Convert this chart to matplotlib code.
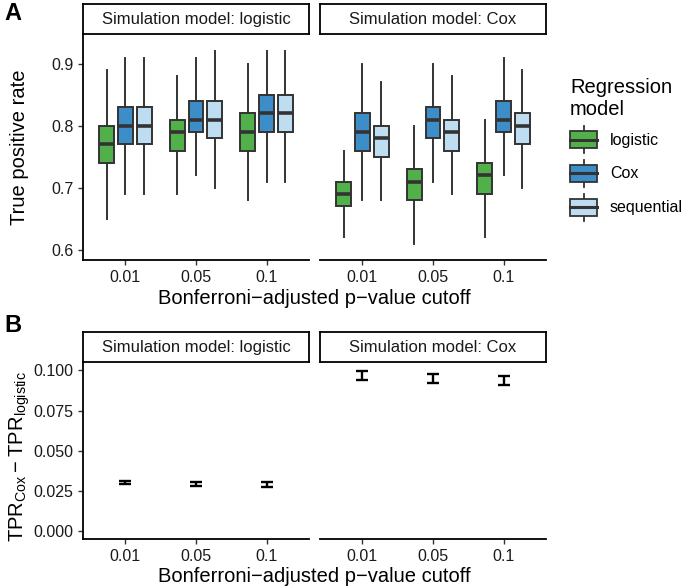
import matplotlib
matplotlib.use("Agg")
import matplotlib.pyplot as plt
from matplotlib.patches import Rectangle, Patch
from matplotlib.lines import Line2D
from matplotlib.legend_handler import HandlerBase

plt.rcParams['font.family'] = ['Liberation Sans', 'DejaVu Sans']

cutoffs = ['0.01', '0.05', '0.1']
reg_models = ['logistic', 'Cox', 'sequential']
reg_colors = ['#52B04A', '#3D8DC9', '#BFDDF0']
strip_labels = ['Simulation model: logistic', 'Simulation model: Cox']

# box stats per cutoff: (whisker low, q1, median, q3, whisker high)
simlog_reg_logistic = [(0.65, 0.74, 0.77, 0.80, 0.89), (0.69, 0.76, 0.79, 0.81, 0.88), (0.68, 0.76, 0.79, 0.82, 0.90)]
simlog_reg_cox = [(0.69, 0.77, 0.80, 0.83, 0.91), (0.72, 0.79, 0.81, 0.84, 0.91), (0.71, 0.79, 0.82, 0.85, 0.92)]
simlog_reg_seq = [(0.69, 0.77, 0.80, 0.83, 0.91), (0.70, 0.78, 0.81, 0.84, 0.92), (0.71, 0.79, 0.82, 0.85, 0.92)]
simcox_reg_logistic = [(0.62, 0.67, 0.69, 0.71, 0.76), (0.61, 0.68, 0.71, 0.73, 0.80), (0.62, 0.69, 0.72, 0.74, 0.81)]
simcox_reg_cox = [(0.68, 0.76, 0.79, 0.82, 0.90), (0.71, 0.78, 0.81, 0.83, 0.90), (0.72, 0.79, 0.81, 0.84, 0.91)]
simcox_reg_seq = [(0.68, 0.75, 0.78, 0.80, 0.87), (0.69, 0.76, 0.79, 0.81, 0.88), (0.70, 0.77, 0.80, 0.82, 0.89)]

# TPR_Cox - TPR_logistic, interval per cutoff
diff_low_simlog = [0.0290, 0.0278, 0.0274]
diff_high_simlog = [0.0314, 0.0306, 0.0302]
diff_low_simcox = [0.0943, 0.0920, 0.0910]
diff_high_simcox = [0.0998, 0.0977, 0.0963]

W, H = 685, 588
fig = plt.figure(figsize=(W / 100, H / 100), dpi=100)
edge = '#333333'
txt = '#1a1a1a'


def px_axes(x0, y0, x1, y1):
    return fig.add_axes([x0 / W, 1 - y1 / H, (x1 - x0) / W, (y1 - y0) / H])


def style(ax, show_y):
    for s in ['top', 'right']:
        ax.spines[s].set_visible(False)
    ax.spines['bottom'].set_linewidth(1.3)
    ax.spines['left'].set_linewidth(1.3)
    ax.tick_params(width=1.0, length=3.5, colors=edge, labelcolor=txt, labelsize=11.5)
    if not show_y:
        ax.spines['left'].set_visible(False)
        ax.tick_params(axis='y', left=False, labelleft=False)
    ax.set_xlim(0.4, 3.6)
    ax.set_xticks([1, 2, 3])
    ax.set_xticklabels(cutoffs)


def strip(x0, y0, x1, y1, label):
    s = px_axes(x0, y0, x1, y1)
    s.set_xticks([])
    s.set_yticks([])
    for sp in s.spines.values():
        sp.set_linewidth(1.3)
        sp.set_color('black')
    s.text(0.5, 0.47, label, ha='center', va='center', fontsize=12, color=txt,
           transform=s.transAxes)


# Panel A
sims_a = [[simlog_reg_logistic, simlog_reg_cox, simlog_reg_seq],
          [simcox_reg_logistic, simcox_reg_cox, simcox_reg_seq]]
offsets = [-0.265, 0, 0.265]
xr = [(83, 309), (320, 546)]
for p, groups in enumerate(sims_a):
    ax = px_axes(xr[p][0], 34, xr[p][1], 260)
    style(ax, p == 0)
    for r, series in enumerate(groups):
        stats = [dict(whislo=v[0], q1=v[1], med=v[2], q3=v[3], whishi=v[4], fliers=[])
                 for v in series]
        ax.bxp(stats, positions=[i + 1 + offsets[r] for i in range(3)], widths=0.21,
               showcaps=False, patch_artist=True,
               boxprops=dict(facecolor=reg_colors[r], edgecolor=edge, linewidth=1.4),
               whiskerprops=dict(color=edge, linewidth=1.4),
               medianprops=dict(color=edge, linewidth=2.6), manage_ticks=False)
    ax.set_ylim(0.5834, 0.948)
    ax.set_yticks([0.6, 0.7, 0.8, 0.9])
    ax.set_yticklabels(['0.6', '0.7', '0.8', '0.9'])
    strip(xr[p][0], 4, xr[p][1], 34, strip_labels[p])

# Panel B
lows = [diff_low_simlog, diff_low_simcox]
highs = [diff_high_simlog, diff_high_simcox]
for p in range(2):
    ax = px_axes(xr[p][0], 362, xr[p][1], 539)
    style(ax, p == 0)
    centers = [(lo + hi) / 2 for lo, hi in zip(lows[p], highs[p])]
    halves = [(hi - lo) / 2 for lo, hi in zip(lows[p], highs[p])]
    ax.errorbar([1, 2, 3], centers, yerr=halves, fmt='none', ecolor='black',
                elinewidth=1.7, capsize=4, capthick=1.7)
    ax.set_ylim(-0.005, 0.1052)
    ax.set_yticks([0, 0.025, 0.05, 0.075, 0.1])
    ax.set_yticklabels(['0.000', '0.025', '0.050', '0.075', '0.100'])
    strip(xr[p][0], 332, xr[p][1], 362, strip_labels[p])

# axis titles
fig.text(314 / W, 1 - 298 / H, 'Bonferroni\u2212adjusted p\u2212value cutoff',
         ha='center', va='center', fontsize=14.5)
fig.text(314 / W, 1 - 577 / H, 'Bonferroni\u2212adjusted p\u2212value cutoff',
         ha='center', va='center', fontsize=14.5)
fig.text(20 / W, 1 - 147 / H, 'True positive rate', rotation=90,
         ha='center', va='center', fontsize=14.5)
fig.text(20 / W, 1 - 457 / H, r'$\mathregular{TPR_{Cox} - TPR_{logistic}}$', rotation=90,
         ha='center', va='center', fontsize=14.5)
fig.text(4 / W, 1 - 14 / H, 'A', fontsize=17, fontweight='bold', va='center')
fig.text(4 / W, 1 - 326 / H, 'B', fontsize=17, fontweight='bold', va='center')


class BoxHandler(HandlerBase):
    def create_artists(self, legend, orig_handle, xdescent, ydescent, width, height,
                       fontsize, trans):
        x0, y0 = -xdescent, -ydescent
        cx = x0 + width / 2
        bh = height * 0.65
        by = y0 + (height - bh) / 2
        whisk = Line2D([cx, cx], [y0, y0 + height], color=edge, lw=1.3, transform=trans)
        rect = Rectangle((x0, by), width, bh, facecolor=orig_handle.get_facecolor(),
                         edgecolor=edge, lw=1.3, transform=trans)
        med = Line2D([x0, x0 + width], [y0 + height / 2] * 2, color=edge, lw=2.2,
                     transform=trans)
        return [whisk, rect, med]


handles = [Patch(facecolor=c) for c in reg_colors]
leg = fig.legend(handles, reg_models, loc='upper left', bbox_to_anchor=(562 / W, 1 - 70 / H),
                 frameon=False, fontsize=11.5, title='Regression\nmodel', title_fontsize=14.5,
                 handlelength=1.7, handleheight=2.2, labelspacing=0.45, handletextpad=0.8,
                 borderpad=0, alignment='left', handler_map={Patch: BoxHandler()})

fig.savefig('out.png', dpi=100)
